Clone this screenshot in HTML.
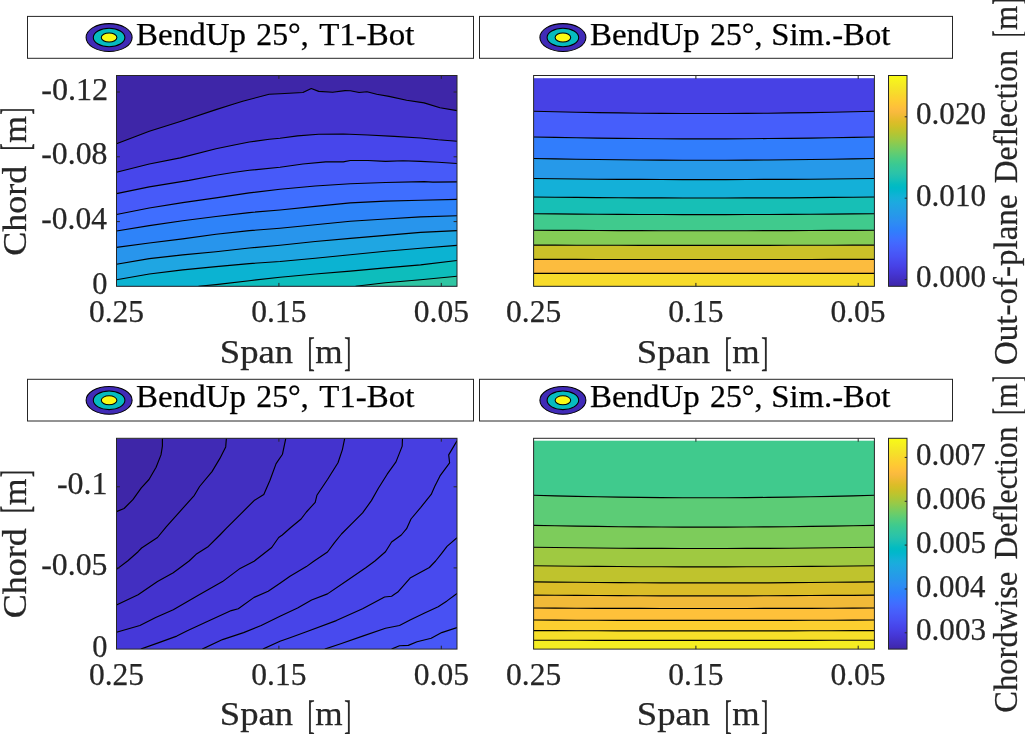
<!DOCTYPE html>
<html><head><meta charset="utf-8"><title>figure</title>
<style>html,body{margin:0;padding:0;background:#fff}body{width:1025px;height:734px;overflow:hidden}</style></head>
<body>
<svg width="1025" height="734" viewBox="0 0 1025 734" style="display:block">
<defs>
<linearGradient id="pg" x1="0" y1="1" x2="0" y2="0"><stop offset="0.0000" stop-color="#3e26a8"/><stop offset="0.0156" stop-color="#402ab4"/><stop offset="0.0312" stop-color="#422ebf"/><stop offset="0.0469" stop-color="#4332ca"/><stop offset="0.0625" stop-color="#4536d5"/><stop offset="0.0781" stop-color="#463bdd"/><stop offset="0.0938" stop-color="#4741e5"/><stop offset="0.1094" stop-color="#4746eb"/><stop offset="0.1250" stop-color="#484cef"/><stop offset="0.1406" stop-color="#4852f4"/><stop offset="0.1562" stop-color="#4757f7"/><stop offset="0.1719" stop-color="#475dfa"/><stop offset="0.1875" stop-color="#4562fc"/><stop offset="0.2031" stop-color="#4368fe"/><stop offset="0.2188" stop-color="#3f6eff"/><stop offset="0.2344" stop-color="#3a74ff"/><stop offset="0.2500" stop-color="#347afd"/><stop offset="0.2656" stop-color="#2f80fb"/><stop offset="0.2812" stop-color="#2e85f8"/><stop offset="0.2969" stop-color="#2d8bf4"/><stop offset="0.3125" stop-color="#2c90f0"/><stop offset="0.3281" stop-color="#2895ec"/><stop offset="0.3438" stop-color="#269ae9"/><stop offset="0.3594" stop-color="#249ee6"/><stop offset="0.3750" stop-color="#21a3e3"/><stop offset="0.3906" stop-color="#1ea7e1"/><stop offset="0.4062" stop-color="#1aacdd"/><stop offset="0.4219" stop-color="#15b0d8"/><stop offset="0.4375" stop-color="#0cb3d3"/><stop offset="0.4531" stop-color="#03b6cd"/><stop offset="0.4688" stop-color="#00b9c6"/><stop offset="0.4844" stop-color="#05bcc0"/><stop offset="0.5000" stop-color="#12beb9"/><stop offset="0.5156" stop-color="#1ec0b2"/><stop offset="0.5312" stop-color="#28c2ab"/><stop offset="0.5469" stop-color="#2ec5a4"/><stop offset="0.5625" stop-color="#34c79c"/><stop offset="0.5781" stop-color="#3ac993"/><stop offset="0.5938" stop-color="#43cb8a"/><stop offset="0.6094" stop-color="#4fcc80"/><stop offset="0.6250" stop-color="#5ccc76"/><stop offset="0.6406" stop-color="#69cd6b"/><stop offset="0.6562" stop-color="#77cc60"/><stop offset="0.6719" stop-color="#85cb55"/><stop offset="0.6875" stop-color="#94ca4a"/><stop offset="0.7031" stop-color="#a2c840"/><stop offset="0.7188" stop-color="#afc636"/><stop offset="0.7344" stop-color="#bcc42f"/><stop offset="0.7500" stop-color="#c8c129"/><stop offset="0.7656" stop-color="#d4bf27"/><stop offset="0.7812" stop-color="#debc29"/><stop offset="0.7969" stop-color="#e8bb2f"/><stop offset="0.8125" stop-color="#f1ba37"/><stop offset="0.8281" stop-color="#f9ba3e"/><stop offset="0.8438" stop-color="#febe3c"/><stop offset="0.8594" stop-color="#fec437"/><stop offset="0.8750" stop-color="#feca33"/><stop offset="0.8906" stop-color="#fcd030"/><stop offset="0.9062" stop-color="#f9d62d"/><stop offset="0.9219" stop-color="#f7dd2a"/><stop offset="0.9375" stop-color="#f5e327"/><stop offset="0.9531" stop-color="#f5e924"/><stop offset="0.9688" stop-color="#f6ef20"/><stop offset="0.9844" stop-color="#f7f51b"/><stop offset="1.0000" stop-color="#f9fb15"/></linearGradient>
<clipPath id="cTL"><rect x="116.5" y="75.5" width="340.5" height="210.8"/></clipPath>
<clipPath id="cTR"><rect x="533.6" y="75.5" width="340.8" height="210.8"/></clipPath>
<clipPath id="cBL"><rect x="116.5" y="438.3" width="340.5" height="210.8"/></clipPath>
<clipPath id="cBR"><rect x="533.6" y="438.3" width="340.8" height="210.8"/></clipPath>
</defs>
<rect width="1025" height="734" fill="#fff"/>
<g clip-path="url(#cTL)">
<rect x="116.5" y="75.5" width="340.5" height="210.8" fill="#3e26a8"/>
<polygon points="116.5,143.8 149.3,131.2 180.3,121.5 216.0,109.6 233.0,104.3 242.7,101.2 269.1,94.3 280.0,93.7 302.9,92.5 311.3,88.5 318.7,91.4 332.7,92.3 345.0,90.6 350.3,90.7 359.1,92.5 367.0,91.8 376.7,94.3 389.0,96.4 406.6,100.2 424.1,102.9 440.0,107.8 457.0,110.6 457.0,286.3 116.5,286.3" fill="#4434d0"/>
<polygon points="116.5,172.2 149.3,164.0 180.3,157.9 216.0,148.8 233.0,145.2 249.3,142.0 269.3,139.2 280.0,138.2 297.6,135.9 318.7,134.3 343.3,134.0 367.9,135.0 394.3,136.4 420.6,138.0 438.2,139.8 457.0,141.3 457.0,286.3 116.5,286.3" fill="#4746eb"/>
<polygon points="116.5,193.6 149.3,186.9 189.1,180.4 216.0,175.3 233.0,172.5 249.3,170.3 280.0,167.2 302.9,164.0 325.7,161.9 343.3,161.9 350.3,160.5 367.9,160.5 385.5,161.4 403.0,160.7 420.6,161.4 438.2,162.3 457.0,163.5 457.0,286.3 116.5,286.3" fill="#475af9"/>
<polygon points="116.5,214.5 149.3,208.0 182.7,202.6 216.0,197.9 249.3,192.9 280.0,189.3 315.2,186.0 350.3,183.7 385.5,182.5 424.1,181.6 432.9,182.1 457.0,181.8 457.0,286.3 116.5,286.3" fill="#3f6eff"/>
<polygon points="116.5,231.0 149.3,225.6 182.7,220.8 216.0,216.5 249.3,212.6 280.0,210.0 315.2,206.4 350.3,202.9 385.5,201.1 420.6,200.2 457.0,199.3 457.0,286.3 116.5,286.3" fill="#2e83f9"/>
<polygon points="116.5,247.4 149.3,243.0 182.7,238.9 216.0,234.3 249.3,230.6 280.0,228.2 315.2,224.8 350.3,221.3 385.5,219.0 420.6,216.9 457.0,215.7 457.0,286.3 116.5,286.3" fill="#2895ec"/>
<polygon points="116.5,264.2 149.3,258.6 182.7,254.9 216.0,251.7 249.3,248.0 280.0,245.2 315.2,241.5 350.3,238.4 385.5,235.4 420.6,232.4 457.0,230.6 457.0,286.3 116.5,286.3" fill="#1fa6e2"/>
<polygon points="116.5,279.7 149.3,274.0 182.7,269.9 216.0,266.6 249.3,263.6 280.0,261.5 315.2,258.2 350.3,254.7 385.5,251.2 420.6,248.2 457.0,245.4 457.0,286.3 116.5,286.3" fill="#0bb3d2"/>
<polygon points="198.5,286.3 216.0,284.6 249.3,280.7 280.0,277.2 315.2,274.0 350.3,271.1 385.5,267.9 420.6,264.9 457.0,260.5 457.0,286.3" fill="#0dbdbc"/>
<polygon points="355.6,286.3 385.5,282.8 420.6,279.8 457.0,276.2 457.0,286.3" fill="#2fc5a3"/>
<polyline points="116.5,143.8 149.3,131.2 180.3,121.5 216.0,109.6 233.0,104.3 242.7,101.2 269.1,94.3 280.0,93.7 302.9,92.5 311.3,88.5 318.7,91.4 332.7,92.3 345.0,90.6 350.3,90.7 359.1,92.5 367.0,91.8 376.7,94.3 389.0,96.4 406.6,100.2 424.1,102.9 440.0,107.8 457.0,110.6" fill="none" stroke="#000" stroke-width="1.15" stroke-linejoin="round"/>
<polyline points="116.5,172.2 149.3,164.0 180.3,157.9 216.0,148.8 233.0,145.2 249.3,142.0 269.3,139.2 280.0,138.2 297.6,135.9 318.7,134.3 343.3,134.0 367.9,135.0 394.3,136.4 420.6,138.0 438.2,139.8 457.0,141.3" fill="none" stroke="#000" stroke-width="1.15" stroke-linejoin="round"/>
<polyline points="116.5,193.6 149.3,186.9 189.1,180.4 216.0,175.3 233.0,172.5 249.3,170.3 280.0,167.2 302.9,164.0 325.7,161.9 343.3,161.9 350.3,160.5 367.9,160.5 385.5,161.4 403.0,160.7 420.6,161.4 438.2,162.3 457.0,163.5" fill="none" stroke="#000" stroke-width="1.15" stroke-linejoin="round"/>
<polyline points="116.5,214.5 149.3,208.0 182.7,202.6 216.0,197.9 249.3,192.9 280.0,189.3 315.2,186.0 350.3,183.7 385.5,182.5 424.1,181.6 432.9,182.1 457.0,181.8" fill="none" stroke="#000" stroke-width="1.15" stroke-linejoin="round"/>
<polyline points="116.5,231.0 149.3,225.6 182.7,220.8 216.0,216.5 249.3,212.6 280.0,210.0 315.2,206.4 350.3,202.9 385.5,201.1 420.6,200.2 457.0,199.3" fill="none" stroke="#000" stroke-width="1.15" stroke-linejoin="round"/>
<polyline points="116.5,247.4 149.3,243.0 182.7,238.9 216.0,234.3 249.3,230.6 280.0,228.2 315.2,224.8 350.3,221.3 385.5,219.0 420.6,216.9 457.0,215.7" fill="none" stroke="#000" stroke-width="1.15" stroke-linejoin="round"/>
<polyline points="116.5,264.2 149.3,258.6 182.7,254.9 216.0,251.7 249.3,248.0 280.0,245.2 315.2,241.5 350.3,238.4 385.5,235.4 420.6,232.4 457.0,230.6" fill="none" stroke="#000" stroke-width="1.15" stroke-linejoin="round"/>
<polyline points="116.5,279.7 149.3,274.0 182.7,269.9 216.0,266.6 249.3,263.6 280.0,261.5 315.2,258.2 350.3,254.7 385.5,251.2 420.6,248.2 457.0,245.4" fill="none" stroke="#000" stroke-width="1.15" stroke-linejoin="round"/>
<polyline points="198.5,286.3 216.0,284.6 249.3,280.7 280.0,277.2 315.2,274.0 350.3,271.1 385.5,267.9 420.6,264.9 457.0,260.5" fill="none" stroke="#000" stroke-width="1.15" stroke-linejoin="round"/>
<polyline points="355.6,286.3 385.5,282.8 420.6,279.8 457.0,276.2" fill="none" stroke="#000" stroke-width="1.15" stroke-linejoin="round"/>
</g>
<g clip-path="url(#cTR)">
<rect x="533.6" y="78.2" width="340.8" height="208.1" fill="#4741e5"/>
<polygon points="533.6,111.2 554.9,111.7 576.2,112.2 597.5,112.6 618.8,112.9 640.1,113.2 661.4,113.4 682.7,113.5 704.0,113.5 725.3,113.5 746.6,113.4 767.9,113.2 789.2,112.9 810.5,112.6 831.8,112.2 853.1,111.7 874.4,111.2 874.4,286.3 533.6,286.3" fill="#465efb"/>
<polygon points="533.6,137.0 554.9,137.4 576.2,137.8 597.5,138.1 618.8,138.4 640.1,138.5 661.4,138.7 682.7,138.8 704.0,138.8 725.3,138.8 746.6,138.7 767.9,138.5 789.2,138.4 810.5,138.1 831.8,137.8 853.1,137.4 874.4,137.0 874.4,286.3 533.6,286.3" fill="#317dfc"/>
<polygon points="533.6,158.5 554.9,158.9 576.2,159.2 597.5,159.5 618.8,159.8 640.1,160.0 661.4,160.1 682.7,160.2 704.0,160.2 725.3,160.2 746.6,160.1 767.9,160.0 789.2,159.8 810.5,159.5 831.8,159.2 853.1,158.9 874.4,158.5 874.4,286.3 533.6,286.3" fill="#2699e9"/>
<polygon points="533.6,178.5 554.9,178.8 576.2,179.0 597.5,179.2 618.8,179.3 640.1,179.4 661.4,179.5 682.7,179.6 704.0,179.6 725.3,179.6 746.6,179.5 767.9,179.4 789.2,179.3 810.5,179.2 831.8,179.0 853.1,178.8 874.4,178.5 874.4,286.3 533.6,286.3" fill="#14b0d8"/>
<polygon points="533.6,197.0 554.9,197.2 576.2,197.4 597.5,197.6 618.8,197.8 640.1,197.9 661.4,197.9 682.7,198.0 704.0,198.0 725.3,198.0 746.6,197.9 767.9,197.9 789.2,197.8 810.5,197.6 831.8,197.4 853.1,197.2 874.4,197.0 874.4,286.3 533.6,286.3" fill="#17bfb6"/>
<polygon points="533.6,213.7 554.9,213.9 576.2,214.1 597.5,214.2 618.8,214.4 640.1,214.5 661.4,214.5 682.7,214.6 704.0,214.6 725.3,214.6 746.6,214.5 767.9,214.5 789.2,214.4 810.5,214.2 831.8,214.1 853.1,213.9 874.4,213.7 874.4,286.3 533.6,286.3" fill="#40ca8d"/>
<polygon points="533.6,230.2 554.9,230.3 576.2,230.4 597.5,230.5 618.8,230.6 640.1,230.6 661.4,230.7 682.7,230.7 704.0,230.7 725.3,230.7 746.6,230.7 767.9,230.6 789.2,230.6 810.5,230.5 831.8,230.4 853.1,230.3 874.4,230.2 874.4,286.3 533.6,286.3" fill="#84cc56"/>
<polygon points="533.6,245.1 554.9,245.1 576.2,245.2 597.5,245.2 618.8,245.2 640.1,245.3 661.4,245.3 682.7,245.3 704.0,245.3 725.3,245.3 746.6,245.3 767.9,245.3 789.2,245.2 810.5,245.2 831.8,245.2 853.1,245.1 874.4,245.1 874.4,286.3 533.6,286.3" fill="#cbc128"/>
<polygon points="533.6,259.4 554.9,259.4 576.2,259.4 597.5,259.5 618.8,259.5 640.1,259.5 661.4,259.5 682.7,259.5 704.0,259.5 725.3,259.5 746.6,259.5 767.9,259.5 789.2,259.5 810.5,259.5 831.8,259.4 853.1,259.4 874.4,259.4 874.4,286.3 533.6,286.3" fill="#fcbc3e"/>
<polygon points="533.6,273.3 554.9,273.3 576.2,273.3 597.5,273.3 618.8,273.3 640.1,273.3 661.4,273.3 682.7,273.3 704.0,273.3 725.3,273.3 746.6,273.3 767.9,273.3 789.2,273.3 810.5,273.3 831.8,273.3 853.1,273.3 874.4,273.3 874.4,286.3 533.6,286.3" fill="#f7db2a"/>
<polyline points="533.6,111.2 554.9,111.7 576.2,112.2 597.5,112.6 618.8,112.9 640.1,113.2 661.4,113.4 682.7,113.5 704.0,113.5 725.3,113.5 746.6,113.4 767.9,113.2 789.2,112.9 810.5,112.6 831.8,112.2 853.1,111.7 874.4,111.2" fill="none" stroke="#000" stroke-width="1.15" stroke-linejoin="round"/>
<polyline points="533.6,137.0 554.9,137.4 576.2,137.8 597.5,138.1 618.8,138.4 640.1,138.5 661.4,138.7 682.7,138.8 704.0,138.8 725.3,138.8 746.6,138.7 767.9,138.5 789.2,138.4 810.5,138.1 831.8,137.8 853.1,137.4 874.4,137.0" fill="none" stroke="#000" stroke-width="1.15" stroke-linejoin="round"/>
<polyline points="533.6,158.5 554.9,158.9 576.2,159.2 597.5,159.5 618.8,159.8 640.1,160.0 661.4,160.1 682.7,160.2 704.0,160.2 725.3,160.2 746.6,160.1 767.9,160.0 789.2,159.8 810.5,159.5 831.8,159.2 853.1,158.9 874.4,158.5" fill="none" stroke="#000" stroke-width="1.15" stroke-linejoin="round"/>
<polyline points="533.6,178.5 554.9,178.8 576.2,179.0 597.5,179.2 618.8,179.3 640.1,179.4 661.4,179.5 682.7,179.6 704.0,179.6 725.3,179.6 746.6,179.5 767.9,179.4 789.2,179.3 810.5,179.2 831.8,179.0 853.1,178.8 874.4,178.5" fill="none" stroke="#000" stroke-width="1.15" stroke-linejoin="round"/>
<polyline points="533.6,197.0 554.9,197.2 576.2,197.4 597.5,197.6 618.8,197.8 640.1,197.9 661.4,197.9 682.7,198.0 704.0,198.0 725.3,198.0 746.6,197.9 767.9,197.9 789.2,197.8 810.5,197.6 831.8,197.4 853.1,197.2 874.4,197.0" fill="none" stroke="#000" stroke-width="1.15" stroke-linejoin="round"/>
<polyline points="533.6,213.7 554.9,213.9 576.2,214.1 597.5,214.2 618.8,214.4 640.1,214.5 661.4,214.5 682.7,214.6 704.0,214.6 725.3,214.6 746.6,214.5 767.9,214.5 789.2,214.4 810.5,214.2 831.8,214.1 853.1,213.9 874.4,213.7" fill="none" stroke="#000" stroke-width="1.15" stroke-linejoin="round"/>
<polyline points="533.6,230.2 554.9,230.3 576.2,230.4 597.5,230.5 618.8,230.6 640.1,230.6 661.4,230.7 682.7,230.7 704.0,230.7 725.3,230.7 746.6,230.7 767.9,230.6 789.2,230.6 810.5,230.5 831.8,230.4 853.1,230.3 874.4,230.2" fill="none" stroke="#000" stroke-width="1.15" stroke-linejoin="round"/>
<polyline points="533.6,245.1 554.9,245.1 576.2,245.2 597.5,245.2 618.8,245.2 640.1,245.3 661.4,245.3 682.7,245.3 704.0,245.3 725.3,245.3 746.6,245.3 767.9,245.3 789.2,245.2 810.5,245.2 831.8,245.2 853.1,245.1 874.4,245.1" fill="none" stroke="#000" stroke-width="1.15" stroke-linejoin="round"/>
<polyline points="533.6,259.4 554.9,259.4 576.2,259.4 597.5,259.5 618.8,259.5 640.1,259.5 661.4,259.5 682.7,259.5 704.0,259.5 725.3,259.5 746.6,259.5 767.9,259.5 789.2,259.5 810.5,259.5 831.8,259.4 853.1,259.4 874.4,259.4" fill="none" stroke="#000" stroke-width="1.15" stroke-linejoin="round"/>
<polyline points="533.6,273.3 554.9,273.3 576.2,273.3 597.5,273.3 618.8,273.3 640.1,273.3 661.4,273.3 682.7,273.3 704.0,273.3 725.3,273.3 746.6,273.3 767.9,273.3 789.2,273.3 810.5,273.3 831.8,273.3 853.1,273.3 874.4,273.3" fill="none" stroke="#000" stroke-width="1.15" stroke-linejoin="round"/>
</g>
<g clip-path="url(#cBL)">
<rect x="116.5" y="438.3" width="340.5" height="210.8" fill="#3e26a8"/>
<polygon points="162.4,438.3 162.4,446.1 161.0,454.9 156.1,467.2 149.0,479.5 141.3,487.9 132.9,499.7 124.1,508.5 116.5,511.6 116.5,649.1 457.0,649.1 457.0,438.3" fill="#402ab5"/>
<polygon points="226.4,438.3 225.7,446.9 219.9,458.4 212.0,471.6 199.6,486.5 194.4,495.3 180.3,511.1 166.2,526.9 157.5,537.5 141.6,548.0 138.1,551.7 127.6,561.0 116.5,569.4 116.5,649.1 457.0,649.1 457.0,438.3" fill="#422fc1"/>
<polygon points="285.8,438.3 282.5,454.2 276.1,463.6 270.0,480.3 263.8,494.4 254.1,500.6 240.1,514.6 226.0,528.7 219.9,535.0 208.4,546.4 196.1,554.3 189.1,561.0 173.3,572.8 157.5,581.6 138.1,594.8 116.5,604.9 116.5,649.1 457.0,649.1 457.0,438.3" fill="#4433ce"/>
<polygon points="344.7,438.3 342.4,449.6 338.0,462.8 327.5,479.5 316.9,495.3 315.2,502.3 306.4,512.0 301.1,519.0 290.5,527.8 282.3,535.0 278.7,537.5 271.7,547.5 254.1,561.2 240.1,568.4 222.5,581.6 197.9,595.6 173.3,609.7 155.7,617.6 139.9,625.5 116.5,632.3 116.5,649.1 457.0,649.1 457.0,438.3" fill="#4538d9"/>
<polygon points="402.5,438.3 402.2,446.1 396.0,461.9 387.2,474.2 378.4,488.2 371.4,500.6 362.6,512.9 352.1,523.4 341.5,534.0 334.5,542.7 327.5,552.0 313.4,561.5 306.4,566.6 290.0,576.3 280.0,583.3 268.2,591.2 254.1,597.4 238.3,608.8 231.3,610.6 208.4,621.1 187.3,630.8 176.8,636.1 157.5,643.1 140.8,649.1 457.0,649.1 457.0,438.3" fill="#473ee1"/>
<polygon points="457.0,440.8 448.7,454.9 449.6,462.8 440.0,475.9 434.7,486.5 431.2,494.4 420.6,507.6 411.0,519.0 406.6,528.7 401.3,535.0 391.6,542.0 385.5,551.7 374.9,561.0 366.1,567.5 346.8,580.7 327.5,593.9 311.6,600.0 297.6,608.0 280.0,616.2 261.2,625.5 243.6,632.6 222.5,639.6 202.3,649.1 457.0,649.1" fill="#4744e8"/>
<polygon points="457.0,537.8 447.0,546.4 441.7,553.3 435.6,561.0 429.4,567.5 410.1,578.1 397.8,592.1 391.6,596.2 384.6,597.0 362.6,608.8 336.3,620.6 306.4,631.7 290.0,637.8 280.0,641.3 262.9,649.1 457.0,649.1" fill="#484aee"/>
<polygon points="457.0,593.5 447.0,600.9 438.2,606.7 424.1,613.2 410.1,619.9 399.5,625.5 385.5,628.2 362.6,636.1 341.5,643.5 324.8,649.1 457.0,649.1" fill="#4851f3"/>
<polygon points="457.0,627.6 441.7,632.6 431.2,638.2 417.1,641.7 408.3,645.4 399.5,645.7 391.6,649.1 457.0,649.1" fill="#4757f7"/>
<polyline points="162.4,438.3 162.4,446.1 161.0,454.9 156.1,467.2 149.0,479.5 141.3,487.9 132.9,499.7 124.1,508.5 116.5,511.6" fill="none" stroke="#000" stroke-width="1.15" stroke-linejoin="round"/>
<polyline points="226.4,438.3 225.7,446.9 219.9,458.4 212.0,471.6 199.6,486.5 194.4,495.3 180.3,511.1 166.2,526.9 157.5,537.5 141.6,548.0 138.1,551.7 127.6,561.0 116.5,569.4" fill="none" stroke="#000" stroke-width="1.15" stroke-linejoin="round"/>
<polyline points="285.8,438.3 282.5,454.2 276.1,463.6 270.0,480.3 263.8,494.4 254.1,500.6 240.1,514.6 226.0,528.7 219.9,535.0 208.4,546.4 196.1,554.3 189.1,561.0 173.3,572.8 157.5,581.6 138.1,594.8 116.5,604.9" fill="none" stroke="#000" stroke-width="1.15" stroke-linejoin="round"/>
<polyline points="344.7,438.3 342.4,449.6 338.0,462.8 327.5,479.5 316.9,495.3 315.2,502.3 306.4,512.0 301.1,519.0 290.5,527.8 282.3,535.0 278.7,537.5 271.7,547.5 254.1,561.2 240.1,568.4 222.5,581.6 197.9,595.6 173.3,609.7 155.7,617.6 139.9,625.5 116.5,632.3" fill="none" stroke="#000" stroke-width="1.15" stroke-linejoin="round"/>
<polyline points="402.5,438.3 402.2,446.1 396.0,461.9 387.2,474.2 378.4,488.2 371.4,500.6 362.6,512.9 352.1,523.4 341.5,534.0 334.5,542.7 327.5,552.0 313.4,561.5 306.4,566.6 290.0,576.3 280.0,583.3 268.2,591.2 254.1,597.4 238.3,608.8 231.3,610.6 208.4,621.1 187.3,630.8 176.8,636.1 157.5,643.1 140.8,649.1" fill="none" stroke="#000" stroke-width="1.15" stroke-linejoin="round"/>
<polyline points="457.0,440.8 448.7,454.9 449.6,462.8 440.0,475.9 434.7,486.5 431.2,494.4 420.6,507.6 411.0,519.0 406.6,528.7 401.3,535.0 391.6,542.0 385.5,551.7 374.9,561.0 366.1,567.5 346.8,580.7 327.5,593.9 311.6,600.0 297.6,608.0 280.0,616.2 261.2,625.5 243.6,632.6 222.5,639.6 202.3,649.1" fill="none" stroke="#000" stroke-width="1.15" stroke-linejoin="round"/>
<polyline points="457.0,537.8 447.0,546.4 441.7,553.3 435.6,561.0 429.4,567.5 410.1,578.1 397.8,592.1 391.6,596.2 384.6,597.0 362.6,608.8 336.3,620.6 306.4,631.7 290.0,637.8 280.0,641.3 262.9,649.1" fill="none" stroke="#000" stroke-width="1.15" stroke-linejoin="round"/>
<polyline points="457.0,593.5 447.0,600.9 438.2,606.7 424.1,613.2 410.1,619.9 399.5,625.5 385.5,628.2 362.6,636.1 341.5,643.5 324.8,649.1" fill="none" stroke="#000" stroke-width="1.15" stroke-linejoin="round"/>
<polyline points="457.0,627.6 441.7,632.6 431.2,638.2 417.1,641.7 408.3,645.4 399.5,645.7 391.6,649.1" fill="none" stroke="#000" stroke-width="1.15" stroke-linejoin="round"/>
</g>
<g clip-path="url(#cBR)">
<rect x="533.6" y="440.7" width="340.8" height="208.4" fill="#40ca8d"/>
<polygon points="533.6,495.3 554.9,495.9 576.2,496.4 597.5,496.8 618.8,497.1 640.1,497.4 661.4,497.6 682.7,497.7 704.0,497.7 725.3,497.7 746.6,497.6 767.9,497.4 789.2,497.1 810.5,496.8 831.8,496.4 853.1,495.9 874.4,495.3 874.4,649.1 533.6,649.1" fill="#5ccc76"/>
<polygon points="533.6,525.4 554.9,525.8 576.2,526.1 597.5,526.4 618.8,526.7 640.1,526.9 661.4,527.0 682.7,527.1 704.0,527.1 725.3,527.1 746.6,527.0 767.9,526.9 789.2,526.7 810.5,526.4 831.8,526.1 853.1,525.8 874.4,525.4 874.4,649.1 533.6,649.1" fill="#7dcc5b"/>
<polygon points="533.6,547.2 554.9,547.5 576.2,547.8 597.5,548.0 618.8,548.2 640.1,548.3 661.4,548.4 682.7,548.5 704.0,548.5 725.3,548.5 746.6,548.4 767.9,548.3 789.2,548.2 810.5,548.0 831.8,547.8 853.1,547.5 874.4,547.2 874.4,649.1 533.6,649.1" fill="#9fc941"/>
<polygon points="533.6,565.8 554.9,566.0 576.2,566.2 597.5,566.4 618.8,566.5 640.1,566.7 661.4,566.7 682.7,566.8 704.0,566.8 725.3,566.8 746.6,566.7 767.9,566.7 789.2,566.5 810.5,566.4 831.8,566.2 853.1,566.0 874.4,565.8 874.4,649.1 533.6,649.1" fill="#bfc32d"/>
<polygon points="533.6,581.9 554.9,582.1 576.2,582.3 597.5,582.5 618.8,582.6 640.1,582.8 661.4,582.8 682.7,582.9 704.0,582.9 725.3,582.9 746.6,582.8 767.9,582.8 789.2,582.6 810.5,582.5 831.8,582.3 853.1,582.1 874.4,581.9 874.4,649.1 533.6,649.1" fill="#dbbd28"/>
<polygon points="533.6,595.1 554.9,595.3 576.2,595.4 597.5,595.5 618.8,595.6 640.1,595.7 661.4,595.8 682.7,595.8 704.0,595.8 725.3,595.8 746.6,595.8 767.9,595.7 789.2,595.6 810.5,595.5 831.8,595.4 853.1,595.3 874.4,595.1 874.4,649.1 533.6,649.1" fill="#f1ba38"/>
<polygon points="533.6,608.0 554.9,608.1 576.2,608.2 597.5,608.3 618.8,608.4 640.1,608.4 661.4,608.5 682.7,608.5 704.0,608.5 725.3,608.5 746.6,608.5 767.9,608.4 789.2,608.4 810.5,608.3 831.8,608.2 853.1,608.1 874.4,608.0 874.4,649.1 533.6,649.1" fill="#fec13a"/>
<polygon points="533.6,620.0 554.9,620.1 576.2,620.2 597.5,620.2 618.8,620.3 640.1,620.3 661.4,620.4 682.7,620.4 704.0,620.4 725.3,620.4 746.6,620.4 767.9,620.3 789.2,620.3 810.5,620.2 831.8,620.2 853.1,620.1 874.4,620.0 874.4,649.1 533.6,649.1" fill="#fccf30"/>
<polygon points="533.6,630.6 554.9,630.6 576.2,630.7 597.5,630.7 618.8,630.8 640.1,630.8 661.4,630.8 682.7,630.8 704.0,630.8 725.3,630.8 746.6,630.8 767.9,630.8 789.2,630.8 810.5,630.7 831.8,630.7 853.1,630.6 874.4,630.6 874.4,649.1 533.6,649.1" fill="#f6de29"/>
<polygon points="533.6,640.2 554.9,640.2 576.2,640.2 597.5,640.3 618.8,640.3 640.1,640.3 661.4,640.3 682.7,640.3 704.0,640.3 725.3,640.3 746.6,640.3 767.9,640.3 789.2,640.3 810.5,640.3 831.8,640.2 853.1,640.2 874.4,640.2 874.4,649.1 533.6,649.1" fill="#f5ed22"/>
<polyline points="533.6,495.3 554.9,495.9 576.2,496.4 597.5,496.8 618.8,497.1 640.1,497.4 661.4,497.6 682.7,497.7 704.0,497.7 725.3,497.7 746.6,497.6 767.9,497.4 789.2,497.1 810.5,496.8 831.8,496.4 853.1,495.9 874.4,495.3" fill="none" stroke="#000" stroke-width="1.15" stroke-linejoin="round"/>
<polyline points="533.6,525.4 554.9,525.8 576.2,526.1 597.5,526.4 618.8,526.7 640.1,526.9 661.4,527.0 682.7,527.1 704.0,527.1 725.3,527.1 746.6,527.0 767.9,526.9 789.2,526.7 810.5,526.4 831.8,526.1 853.1,525.8 874.4,525.4" fill="none" stroke="#000" stroke-width="1.15" stroke-linejoin="round"/>
<polyline points="533.6,547.2 554.9,547.5 576.2,547.8 597.5,548.0 618.8,548.2 640.1,548.3 661.4,548.4 682.7,548.5 704.0,548.5 725.3,548.5 746.6,548.4 767.9,548.3 789.2,548.2 810.5,548.0 831.8,547.8 853.1,547.5 874.4,547.2" fill="none" stroke="#000" stroke-width="1.15" stroke-linejoin="round"/>
<polyline points="533.6,565.8 554.9,566.0 576.2,566.2 597.5,566.4 618.8,566.5 640.1,566.7 661.4,566.7 682.7,566.8 704.0,566.8 725.3,566.8 746.6,566.7 767.9,566.7 789.2,566.5 810.5,566.4 831.8,566.2 853.1,566.0 874.4,565.8" fill="none" stroke="#000" stroke-width="1.15" stroke-linejoin="round"/>
<polyline points="533.6,581.9 554.9,582.1 576.2,582.3 597.5,582.5 618.8,582.6 640.1,582.8 661.4,582.8 682.7,582.9 704.0,582.9 725.3,582.9 746.6,582.8 767.9,582.8 789.2,582.6 810.5,582.5 831.8,582.3 853.1,582.1 874.4,581.9" fill="none" stroke="#000" stroke-width="1.15" stroke-linejoin="round"/>
<polyline points="533.6,595.1 554.9,595.3 576.2,595.4 597.5,595.5 618.8,595.6 640.1,595.7 661.4,595.8 682.7,595.8 704.0,595.8 725.3,595.8 746.6,595.8 767.9,595.7 789.2,595.6 810.5,595.5 831.8,595.4 853.1,595.3 874.4,595.1" fill="none" stroke="#000" stroke-width="1.15" stroke-linejoin="round"/>
<polyline points="533.6,608.0 554.9,608.1 576.2,608.2 597.5,608.3 618.8,608.4 640.1,608.4 661.4,608.5 682.7,608.5 704.0,608.5 725.3,608.5 746.6,608.5 767.9,608.4 789.2,608.4 810.5,608.3 831.8,608.2 853.1,608.1 874.4,608.0" fill="none" stroke="#000" stroke-width="1.15" stroke-linejoin="round"/>
<polyline points="533.6,620.0 554.9,620.1 576.2,620.2 597.5,620.2 618.8,620.3 640.1,620.3 661.4,620.4 682.7,620.4 704.0,620.4 725.3,620.4 746.6,620.4 767.9,620.3 789.2,620.3 810.5,620.2 831.8,620.2 853.1,620.1 874.4,620.0" fill="none" stroke="#000" stroke-width="1.15" stroke-linejoin="round"/>
<polyline points="533.6,630.6 554.9,630.6 576.2,630.7 597.5,630.7 618.8,630.8 640.1,630.8 661.4,630.8 682.7,630.8 704.0,630.8 725.3,630.8 746.6,630.8 767.9,630.8 789.2,630.8 810.5,630.7 831.8,630.7 853.1,630.6 874.4,630.6" fill="none" stroke="#000" stroke-width="1.15" stroke-linejoin="round"/>
<polyline points="533.6,640.2 554.9,640.2 576.2,640.2 597.5,640.3 618.8,640.3 640.1,640.3 661.4,640.3 682.7,640.3 704.0,640.3 725.3,640.3 746.6,640.3 767.9,640.3 789.2,640.3 810.5,640.3 831.8,640.2 853.1,640.2 874.4,640.2" fill="none" stroke="#000" stroke-width="1.15" stroke-linejoin="round"/>
</g>
<rect x="888.5" y="75.5" width="18.5" height="210.8" fill="url(#pg)" stroke="#262626" stroke-width="1"/>
<rect x="888.5" y="438.3" width="18.5" height="210.8" fill="url(#pg)" stroke="#262626" stroke-width="1"/>
<rect x="116.5" y="75.5" width="340.5" height="210.8" fill="none" stroke="#262626" stroke-width="1"/>
<path d="M278.9 286.3v-3.4M278.9 75.5v3.4M441.3 286.3v-3.4M441.3 75.5v3.4M116.5 92.0h3.4M457.0 92.0h-3.4M116.5 156.8h3.4M457.0 156.8h-3.4M116.5 221.6h3.4M457.0 221.6h-3.4" stroke="#262626" stroke-width="1" fill="none"/>
<rect x="533.6" y="75.5" width="340.8" height="210.8" fill="none" stroke="#262626" stroke-width="1"/>
<path d="M695.9 286.3v-3.4M695.9 75.5v3.4M858.2 286.3v-3.4M858.2 75.5v3.4" stroke="#262626" stroke-width="1" fill="none"/>
<rect x="116.5" y="438.3" width="340.5" height="210.8" fill="none" stroke="#262626" stroke-width="1"/>
<path d="M278.9 649.1v-3.4M278.9 438.3v3.4M441.3 649.1v-3.4M441.3 438.3v3.4M116.5 486.8h3.4M457.0 486.8h-3.4M116.5 567.9h3.4M457.0 567.9h-3.4" stroke="#262626" stroke-width="1" fill="none"/>
<rect x="533.6" y="438.3" width="340.8" height="210.8" fill="none" stroke="#262626" stroke-width="1"/>
<path d="M695.9 649.1v-3.4M695.9 438.3v3.4M858.2 649.1v-3.4M858.2 438.3v3.4" stroke="#262626" stroke-width="1" fill="none"/>
<path d="M907.0 116.8h-2.3M907.0 198.2h-2.3M907.0 279.6h-2.3M907.0 457.4h-2.3M907.0 501.3h-2.3M907.0 545.1h-2.3M907.0 589.0h-2.3M907.0 632.8h-2.3" stroke="#262626" stroke-width="1" fill="none"/>
<g font-family="'Liberation Serif', serif">
<text x="88.95" y="322.00" font-size="31.30" fill="#262626" textLength="55.19" lengthAdjust="spacingAndGlyphs" stroke="#262626" stroke-width="0.25">0.25</text>
<text x="251.35" y="322.00" font-size="31.30" fill="#262626" textLength="55.19" lengthAdjust="spacingAndGlyphs" stroke="#262626" stroke-width="0.25">0.15</text>
<text x="413.75" y="322.00" font-size="31.30" fill="#262626" textLength="55.19" lengthAdjust="spacingAndGlyphs" stroke="#262626" stroke-width="0.25">0.05</text>
<text x="506.05" y="322.00" font-size="31.30" fill="#262626" textLength="55.19" lengthAdjust="spacingAndGlyphs" stroke="#262626" stroke-width="0.25">0.25</text>
<text x="668.25" y="322.00" font-size="31.30" fill="#262626" textLength="55.19" lengthAdjust="spacingAndGlyphs" stroke="#262626" stroke-width="0.25">0.15</text>
<text x="830.45" y="322.00" font-size="31.30" fill="#262626" textLength="55.19" lengthAdjust="spacingAndGlyphs" stroke="#262626" stroke-width="0.25">0.05</text>
<text x="88.95" y="684.50" font-size="31.30" fill="#262626" textLength="55.19" lengthAdjust="spacingAndGlyphs" stroke="#262626" stroke-width="0.25">0.25</text>
<text x="251.35" y="684.50" font-size="31.30" fill="#262626" textLength="55.19" lengthAdjust="spacingAndGlyphs" stroke="#262626" stroke-width="0.25">0.15</text>
<text x="413.75" y="684.50" font-size="31.30" fill="#262626" textLength="55.19" lengthAdjust="spacingAndGlyphs" stroke="#262626" stroke-width="0.25">0.05</text>
<text x="506.05" y="684.50" font-size="31.30" fill="#262626" textLength="55.19" lengthAdjust="spacingAndGlyphs" stroke="#262626" stroke-width="0.25">0.25</text>
<text x="668.25" y="684.50" font-size="31.30" fill="#262626" textLength="55.19" lengthAdjust="spacingAndGlyphs" stroke="#262626" stroke-width="0.25">0.15</text>
<text x="830.45" y="684.50" font-size="31.30" fill="#262626" textLength="55.19" lengthAdjust="spacingAndGlyphs" stroke="#262626" stroke-width="0.25">0.05</text>
<text x="219.80" y="362.80" font-size="33.20" fill="#262626" textLength="73.37" lengthAdjust="spacingAndGlyphs" stroke="#262626" stroke-width="0.25">Span</text>
<text x="307.48" y="366.20" font-size="40.00" fill="#262626" textLength="7.24" lengthAdjust="spacingAndGlyphs" stroke="#262626" stroke-width="0.45">[</text>
<text x="315.30" y="362.80" font-size="33.20" fill="#262626" textLength="27.38" lengthAdjust="spacingAndGlyphs" stroke="#262626" stroke-width="0.25">m</text>
<text x="344.37" y="366.20" font-size="40.00" fill="#262626" textLength="6.95" lengthAdjust="spacingAndGlyphs" stroke="#262626" stroke-width="0.45">]</text>
<text x="636.80" y="362.80" font-size="33.20" fill="#262626" textLength="73.37" lengthAdjust="spacingAndGlyphs" stroke="#262626" stroke-width="0.25">Span</text>
<text x="724.48" y="366.20" font-size="40.00" fill="#262626" textLength="7.24" lengthAdjust="spacingAndGlyphs" stroke="#262626" stroke-width="0.45">[</text>
<text x="732.30" y="362.80" font-size="33.20" fill="#262626" textLength="27.38" lengthAdjust="spacingAndGlyphs" stroke="#262626" stroke-width="0.25">m</text>
<text x="761.37" y="366.20" font-size="40.00" fill="#262626" textLength="6.95" lengthAdjust="spacingAndGlyphs" stroke="#262626" stroke-width="0.45">]</text>
<text x="219.80" y="725.30" font-size="33.20" fill="#262626" textLength="73.37" lengthAdjust="spacingAndGlyphs" stroke="#262626" stroke-width="0.25">Span</text>
<text x="307.48" y="728.70" font-size="40.00" fill="#262626" textLength="7.24" lengthAdjust="spacingAndGlyphs" stroke="#262626" stroke-width="0.45">[</text>
<text x="315.30" y="725.30" font-size="33.20" fill="#262626" textLength="27.38" lengthAdjust="spacingAndGlyphs" stroke="#262626" stroke-width="0.25">m</text>
<text x="344.37" y="728.70" font-size="40.00" fill="#262626" textLength="6.95" lengthAdjust="spacingAndGlyphs" stroke="#262626" stroke-width="0.45">]</text>
<text x="636.80" y="725.30" font-size="33.20" fill="#262626" textLength="73.37" lengthAdjust="spacingAndGlyphs" stroke="#262626" stroke-width="0.25">Span</text>
<text x="724.48" y="728.70" font-size="40.00" fill="#262626" textLength="7.24" lengthAdjust="spacingAndGlyphs" stroke="#262626" stroke-width="0.45">[</text>
<text x="732.30" y="725.30" font-size="33.20" fill="#262626" textLength="27.38" lengthAdjust="spacingAndGlyphs" stroke="#262626" stroke-width="0.25">m</text>
<text x="761.37" y="728.70" font-size="40.00" fill="#262626" textLength="6.95" lengthAdjust="spacingAndGlyphs" stroke="#262626" stroke-width="0.45">]</text>
<text x="41.24" y="99.50" font-size="31.30" fill="#262626" textLength="66.97" lengthAdjust="spacingAndGlyphs" stroke="#262626" stroke-width="0.25">-0.12</text>
<text x="41.24" y="164.30" font-size="31.30" fill="#262626" textLength="66.31" lengthAdjust="spacingAndGlyphs" stroke="#262626" stroke-width="0.25">-0.08</text>
<text x="41.25" y="229.10" font-size="31.30" fill="#262626" textLength="65.66" lengthAdjust="spacingAndGlyphs" stroke="#262626" stroke-width="0.25">-0.04</text>
<text x="92.29" y="293.80" font-size="31.30" fill="#262626" textLength="15.23" lengthAdjust="spacingAndGlyphs" stroke="#262626" stroke-width="0.25">0</text>
<text x="56.94" y="494.30" font-size="31.30" fill="#262626" textLength="50.68" lengthAdjust="spacingAndGlyphs" stroke="#262626" stroke-width="0.25">-0.1</text>
<text x="41.25" y="575.40" font-size="31.30" fill="#262626" textLength="66.21" lengthAdjust="spacingAndGlyphs" stroke="#262626" stroke-width="0.25">-0.05</text>
<text x="92.29" y="656.60" font-size="31.30" fill="#262626" textLength="15.23" lengthAdjust="spacingAndGlyphs" stroke="#262626" stroke-width="0.25">0</text>
<text transform="translate(25.50 255.84) rotate(-90)" x="0" y="0.00" font-size="33.20" fill="#262626" textLength="90.10" lengthAdjust="spacingAndGlyphs" stroke="#262626" stroke-width="0.25">Chord</text>
<text transform="translate(25.50 150.38) rotate(-90)" x="0" y="3.40" font-size="40.00" fill="#262626" textLength="7.06" lengthAdjust="spacingAndGlyphs" stroke="#262626" stroke-width="0.45">[</text>
<text transform="translate(25.50 142.76) rotate(-90)" x="0" y="0.00" font-size="33.20" fill="#262626" textLength="26.71" lengthAdjust="spacingAndGlyphs" stroke="#262626" stroke-width="0.25">m</text>
<text transform="translate(25.50 114.39) rotate(-90)" x="0" y="3.40" font-size="40.00" fill="#262626" textLength="6.78" lengthAdjust="spacingAndGlyphs" stroke="#262626" stroke-width="0.45">]</text>
<text transform="translate(25.50 618.34) rotate(-90)" x="0" y="0.00" font-size="33.20" fill="#262626" textLength="90.10" lengthAdjust="spacingAndGlyphs" stroke="#262626" stroke-width="0.25">Chord</text>
<text transform="translate(25.50 512.88) rotate(-90)" x="0" y="3.40" font-size="40.00" fill="#262626" textLength="7.06" lengthAdjust="spacingAndGlyphs" stroke="#262626" stroke-width="0.45">[</text>
<text transform="translate(25.50 505.26) rotate(-90)" x="0" y="0.00" font-size="33.20" fill="#262626" textLength="26.71" lengthAdjust="spacingAndGlyphs" stroke="#262626" stroke-width="0.25">m</text>
<text transform="translate(25.50 476.89) rotate(-90)" x="0" y="3.40" font-size="40.00" fill="#262626" textLength="6.78" lengthAdjust="spacingAndGlyphs" stroke="#262626" stroke-width="0.45">]</text>
<text x="915.97" y="124.40" font-size="31.30" fill="#262626" textLength="70.07" lengthAdjust="spacingAndGlyphs" stroke="#262626" stroke-width="0.25">0.020</text>
<text x="915.97" y="205.80" font-size="31.30" fill="#262626" textLength="70.07" lengthAdjust="spacingAndGlyphs" stroke="#262626" stroke-width="0.25">0.010</text>
<text x="915.97" y="287.20" font-size="31.30" fill="#262626" textLength="70.07" lengthAdjust="spacingAndGlyphs" stroke="#262626" stroke-width="0.25">0.000</text>
<text x="915.97" y="465.00" font-size="31.30" fill="#262626" textLength="69.75" lengthAdjust="spacingAndGlyphs" stroke="#262626" stroke-width="0.25">0.007</text>
<text x="915.97" y="508.90" font-size="31.30" fill="#262626" textLength="69.75" lengthAdjust="spacingAndGlyphs" stroke="#262626" stroke-width="0.25">0.006</text>
<text x="915.97" y="552.70" font-size="31.30" fill="#262626" textLength="70.07" lengthAdjust="spacingAndGlyphs" stroke="#262626" stroke-width="0.25">0.005</text>
<text x="915.97" y="596.60" font-size="31.30" fill="#262626" textLength="69.43" lengthAdjust="spacingAndGlyphs" stroke="#262626" stroke-width="0.25">0.004</text>
<text x="915.97" y="640.40" font-size="31.30" fill="#262626" textLength="70.07" lengthAdjust="spacingAndGlyphs" stroke="#262626" stroke-width="0.25">0.003</text>
<text transform="translate(1017.30 365.12) rotate(-90)" x="0" y="0.00" font-size="33.20" fill="#262626" textLength="170.64" lengthAdjust="spacingAndGlyphs" stroke="#262626" stroke-width="0.25">Out-of-plane</text>
<text transform="translate(1017.30 183.33) rotate(-90)" x="0" y="0.00" font-size="33.20" fill="#262626" textLength="133.25" lengthAdjust="spacingAndGlyphs" stroke="#262626" stroke-width="0.25">Deflection</text>
<text transform="translate(1017.30 36.94) rotate(-90)" x="0" y="3.40" font-size="40.00" fill="#262626" textLength="6.39" lengthAdjust="spacingAndGlyphs" stroke="#262626" stroke-width="0.45">[</text>
<text transform="translate(1017.30 30.04) rotate(-90)" x="0" y="0.00" font-size="33.20" fill="#262626" textLength="24.16" lengthAdjust="spacingAndGlyphs" stroke="#262626" stroke-width="0.25">m</text>
<text transform="translate(1017.30 4.39) rotate(-90)" x="0" y="3.40" font-size="40.00" fill="#262626" textLength="6.13" lengthAdjust="spacingAndGlyphs" stroke="#262626" stroke-width="0.45">]</text>
<text transform="translate(1017.30 712.70) rotate(-90)" x="0" y="0.00" font-size="33.20" fill="#262626" textLength="141.00" lengthAdjust="spacingAndGlyphs" stroke="#262626" stroke-width="0.25">Chordwise</text>
<text transform="translate(1017.30 559.53) rotate(-90)" x="0" y="0.00" font-size="33.20" fill="#262626" textLength="133.05" lengthAdjust="spacingAndGlyphs" stroke="#262626" stroke-width="0.25">Deflection</text>
<text transform="translate(1017.30 414.44) rotate(-90)" x="0" y="3.40" font-size="40.00" fill="#262626" textLength="6.39" lengthAdjust="spacingAndGlyphs" stroke="#262626" stroke-width="0.45">[</text>
<text transform="translate(1017.30 407.54) rotate(-90)" x="0" y="0.00" font-size="33.20" fill="#262626" textLength="24.16" lengthAdjust="spacingAndGlyphs" stroke="#262626" stroke-width="0.25">m</text>
<text transform="translate(1017.30 381.89) rotate(-90)" x="0" y="3.40" font-size="40.00" fill="#262626" textLength="6.13" lengthAdjust="spacingAndGlyphs" stroke="#262626" stroke-width="0.45">]</text>
</g>
<rect x="27.5" y="16.4" width="446.0" height="41.9" fill="#fff" stroke="#262626" stroke-width="1"/>
<ellipse cx="109.1" cy="37.5" rx="23.0" ry="13.9" fill="#402bb7" stroke="#000" stroke-width="1.05"/>
<ellipse cx="109.1" cy="37.5" rx="15.8" ry="9.3" fill="#06bcbf" stroke="#000" stroke-width="1.05"/>
<ellipse cx="109.1" cy="37.5" rx="7.8" ry="4.5" fill="#f9fb15" stroke="#000" stroke-width="1.05"/>
<g font-family="'Liberation Serif', serif">
<text x="136.14" y="44.50" font-size="31.00" fill="#000" textLength="109.75" lengthAdjust="spacingAndGlyphs" stroke="#000" stroke-width="0.25">BendUp</text>
<text x="256.33" y="44.50" font-size="31.00" fill="#000" textLength="52.37" lengthAdjust="spacingAndGlyphs" stroke="#000" stroke-width="0.25">25°,</text>
<text x="319.17" y="44.50" font-size="31.00" fill="#000" textLength="95.26" lengthAdjust="spacingAndGlyphs" stroke="#000" stroke-width="0.25">T1-Bot</text>
</g>
<rect x="479.5" y="16.4" width="473.0" height="41.9" fill="#fff" stroke="#262626" stroke-width="1"/>
<ellipse cx="562.9" cy="37.5" rx="23.0" ry="13.9" fill="#402bb7" stroke="#000" stroke-width="1.05"/>
<ellipse cx="562.9" cy="37.5" rx="15.8" ry="9.3" fill="#06bcbf" stroke="#000" stroke-width="1.05"/>
<ellipse cx="562.9" cy="37.5" rx="7.8" ry="4.5" fill="#f9fb15" stroke="#000" stroke-width="1.05"/>
<g font-family="'Liberation Serif', serif">
<text x="589.94" y="44.50" font-size="31.00" fill="#000" textLength="109.75" lengthAdjust="spacingAndGlyphs" stroke="#000" stroke-width="0.25">BendUp</text>
<text x="710.13" y="44.50" font-size="31.00" fill="#000" textLength="52.37" lengthAdjust="spacingAndGlyphs" stroke="#000" stroke-width="0.25">25°,</text>
<text x="771.34" y="44.50" font-size="31.00" fill="#000" textLength="118.99" lengthAdjust="spacingAndGlyphs" stroke="#000" stroke-width="0.25">Sim.-Bot</text>
</g>
<rect x="27.5" y="379.3" width="446.0" height="41.7" fill="#fff" stroke="#262626" stroke-width="1"/>
<ellipse cx="109.1" cy="400.3" rx="23.0" ry="13.9" fill="#402bb7" stroke="#000" stroke-width="1.05"/>
<ellipse cx="109.1" cy="400.3" rx="15.8" ry="9.3" fill="#06bcbf" stroke="#000" stroke-width="1.05"/>
<ellipse cx="109.1" cy="400.3" rx="7.8" ry="4.5" fill="#f9fb15" stroke="#000" stroke-width="1.05"/>
<g font-family="'Liberation Serif', serif">
<text x="136.14" y="407.40" font-size="31.00" fill="#000" textLength="109.75" lengthAdjust="spacingAndGlyphs" stroke="#000" stroke-width="0.25">BendUp</text>
<text x="256.33" y="407.40" font-size="31.00" fill="#000" textLength="52.37" lengthAdjust="spacingAndGlyphs" stroke="#000" stroke-width="0.25">25°,</text>
<text x="319.17" y="407.40" font-size="31.00" fill="#000" textLength="95.26" lengthAdjust="spacingAndGlyphs" stroke="#000" stroke-width="0.25">T1-Bot</text>
</g>
<rect x="479.5" y="379.3" width="473.0" height="41.7" fill="#fff" stroke="#262626" stroke-width="1"/>
<ellipse cx="562.9" cy="400.3" rx="23.0" ry="13.9" fill="#402bb7" stroke="#000" stroke-width="1.05"/>
<ellipse cx="562.9" cy="400.3" rx="15.8" ry="9.3" fill="#06bcbf" stroke="#000" stroke-width="1.05"/>
<ellipse cx="562.9" cy="400.3" rx="7.8" ry="4.5" fill="#f9fb15" stroke="#000" stroke-width="1.05"/>
<g font-family="'Liberation Serif', serif">
<text x="589.94" y="407.40" font-size="31.00" fill="#000" textLength="109.75" lengthAdjust="spacingAndGlyphs" stroke="#000" stroke-width="0.25">BendUp</text>
<text x="710.13" y="407.40" font-size="31.00" fill="#000" textLength="52.37" lengthAdjust="spacingAndGlyphs" stroke="#000" stroke-width="0.25">25°,</text>
<text x="771.34" y="407.40" font-size="31.00" fill="#000" textLength="118.99" lengthAdjust="spacingAndGlyphs" stroke="#000" stroke-width="0.25">Sim.-Bot</text>
</g>
</svg>
</body></html>
